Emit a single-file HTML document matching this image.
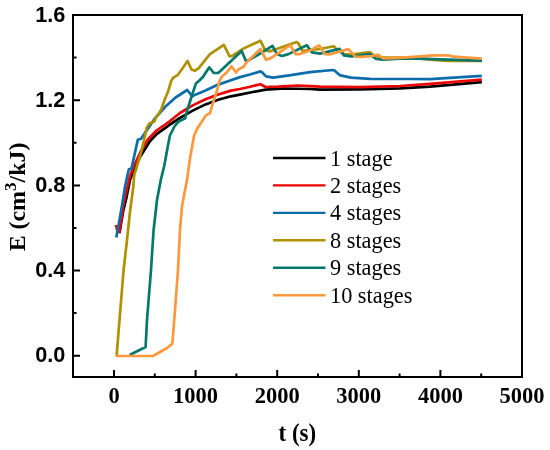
<!DOCTYPE html>
<html><head><meta charset="utf-8"><title>E vs t</title>
<style>html,body{margin:0;padding:0;background:#fff}svg{display:block}text{fill:#000}</style></head><body>
<svg width="550" height="450" viewBox="0 0 550 450">
<rect width="550" height="450" fill="#fff"/>
<polyline points="119.5,233.0 123.0,212.0 126.3,198.3 130.0,180.0 132.8,173.0 140.0,157.0 150.0,141.0 156.5,134.2 165.5,127.8 170.0,124.5 180.0,117.9 192.7,110.6 205.5,104.4 218.2,99.8 230.9,96.3 240.0,94.6 252.7,92.0 265.5,89.7 284.5,88.5 310.0,89.0 320.0,89.6 360.0,89.4 400.0,88.4 430.0,86.6 481.8,82.2" fill="none" stroke="#000000" stroke-width="2.7" stroke-linejoin="round" stroke-linecap="butt"/>
<polyline points="115.8,225.0 117.5,231.0 119.2,232.0 120.0,228.0 123.7,203.3 127.5,186.7 129.7,176.7 133.0,168.0 140.0,153.0 147.6,139.8 156.5,130.5 165.5,124.3 170.0,121.0 180.0,113.0 192.7,105.4 205.5,99.3 218.2,94.5 230.9,90.6 240.0,89.0 250.0,86.7 260.4,84.2 265.5,87.0 278.2,86.7 297.3,85.5 310.0,86.1 320.0,86.6 360.0,87.1 400.0,86.0 430.0,83.9 481.8,79.6" fill="none" stroke="#EB0505" stroke-width="2.7" stroke-linejoin="round" stroke-linecap="butt"/>
<polyline points="116.3,237.5 119.5,220.0 122.4,203.3 125.0,186.7 127.5,175.0 128.9,169.2 131.5,168.5 137.8,139.7 141.0,138.7 155.0,118.3 165.5,106.5 175.6,97.5 187.2,90.0 192.2,96.2 196.0,94.4 205.5,90.4 218.2,84.6 230.9,80.2 240.0,77.1 250.0,74.5 260.4,71.4 262.0,72.3 266.0,76.4 273.1,77.6 290.9,75.2 310.0,72.1 333.0,70.0 334.5,70.6 339.5,75.1 350.9,77.6 370.0,78.8 380.0,79.0 410.0,79.0 430.0,79.2 481.8,75.8" fill="none" stroke="#0C6CAC" stroke-width="2.7" stroke-linejoin="round" stroke-linecap="butt"/>
<polyline points="116.6,355.6 123.6,270.0 127.0,240.0 130.0,211.7 133.3,186.7 134.2,175.0 136.7,167.0 140.0,156.5 143.6,142.0 146.8,127.5 149.5,123.3 154.4,121.5 156.5,116.4 159.1,113.0 161.3,109.3 164.5,100.0 168.0,91.8 171.2,81.0 173.1,77.8 178.2,74.6 187.6,61.0 191.5,69.5 194.7,70.8 198.5,68.3 209.9,54.1 223.9,44.9 229.6,56.5 233.0,55.5 243.8,48.4 260.4,40.7 264.8,49.6 269.3,51.5 278.2,48.4 296.6,42.0 298.5,43.5 302.4,50.9 310.0,50.0 320.0,49.0 333.7,46.2 337.5,50.5 344.0,54.0 351.0,54.7 370.0,52.2 375.0,56.0 383.0,57.6 410.0,57.6 430.0,59.6 448.0,61.0 482.0,61.0" fill="none" stroke="#AF9100" stroke-width="2.7" stroke-linejoin="round" stroke-linecap="butt"/>
<polyline points="129.6,355.0 145.6,347.0 147.0,320.0 151.0,270.0 153.6,230.0 157.0,200.0 160.8,180.0 164.2,166.0 167.7,146.9 169.9,135.5 174.4,126.5 178.2,121.8 185.2,118.3 187.3,110.0 192.4,94.0 195.9,83.6 199.1,80.8 202.9,77.0 209.3,67.3 213.7,73.0 218.2,73.0 222.0,69.4 241.7,50.9 245.9,61.1 249.5,59.8 261.0,53.0 272.5,45.8 276.9,54.1 282.0,56.0 288.4,54.1 306.8,45.2 312.0,52.4 320.0,53.6 339.5,48.9 344.0,55.4 351.0,56.3 370.0,54.1 376.0,59.0 383.0,59.6 400.0,58.6 420.0,58.6 440.0,59.3 482.0,60.6" fill="none" stroke="#05786E" stroke-width="2.7" stroke-linejoin="round" stroke-linecap="butt"/>
<polyline points="115.6,356.0 153.0,356.0 167.0,348.0 172.4,343.6 175.0,310.0 178.0,270.0 180.0,230.0 182.0,206.0 187.0,180.0 190.0,158.5 194.1,135.5 197.3,128.5 202.4,120.8 206.2,115.1 209.9,113.3 212.5,104.4 216.9,91.0 219.5,80.8 222.0,76.4 227.1,71.9 231.5,66.2 236.0,72.5 238.5,69.4 243.6,66.8 246.4,62.4 260.5,49.0 266.1,59.8 271.2,57.9 290.3,45.2 295.4,54.1 299.8,54.1 310.2,50.4 319.1,45.3 324.8,54.1 330.5,54.3 348.4,49.1 355.4,56.6 361.1,56.9 371.5,56.0 377.8,54.7 383.5,58.5 398.2,57.9 417.3,56.6 432.7,55.4 448.6,55.4 453.5,56.7 481.8,58.6" fill="none" stroke="#FD983C" stroke-width="2.7" stroke-linejoin="round" stroke-linecap="butt"/>
<rect x="73" y="15" width="449.0" height="362" fill="none" stroke="#000" stroke-width="2"/>
<path d="M114.0,377v-7 M195.6,377v-7 M277.2,377v-7 M358.8,377v-7 M440.4,377v-7 M522.0,377v-7 M154.8,377v-3.5 M236.4,377v-3.5 M318.0,377v-3.5 M399.6,377v-3.5 M481.2,377v-3.5 M73,355.7h7 M73,270.5h7 M73,185.4h7 M73,100.2h7 M73,15.0h7 M73,313.1h3.5 M73,227.9h3.5 M73,142.8h3.5 M73,57.6h3.5" stroke="#000" stroke-width="2" fill="none"/>
<g font-family="'Liberation Sans', sans-serif" font-weight="bold" font-size="21.7" text-anchor="end">
<text x="65.3" y="362.3">0.0</text>
<text x="65.3" y="277.1">0.4</text>
<text x="65.3" y="192.0">0.8</text>
<text x="65.3" y="106.8">1.2</text>
<text x="65.3" y="21.6">1.6</text>
</g>
<g font-family="'Liberation Serif', serif" font-weight="bold" font-size="22.5" text-anchor="middle">
<text x="114.0" y="403">0</text>
<text x="195.6" y="403">1000</text>
<text x="277.2" y="403">2000</text>
<text x="358.8" y="403">3000</text>
<text x="440.4" y="403">4000</text>
<text x="522.0" y="403">5000</text>
</g>
<text x="278.6" y="441" font-family="'Liberation Serif', serif" font-weight="bold" font-size="25.2" textLength="37.6" lengthAdjust="spacingAndGlyphs">t (s)</text>
<text transform="translate(25.1,197) rotate(-90)" font-family="'Liberation Serif', serif" font-weight="bold" font-size="23.9" text-anchor="middle">E (cm<tspan dy="-9.2" font-size="17">3</tspan><tspan dy="9.2">/kJ)</tspan></text>
<g font-family="'Liberation Serif', serif" font-size="22.3">
<line x1="273" y1="158.0" x2="325.5" y2="158.0" stroke="#000000" stroke-width="2.4"/>
<text x="330" y="165.5">1 stage</text>
<line x1="273" y1="185.4" x2="325.5" y2="185.4" stroke="#EB0505" stroke-width="2.4"/>
<text x="330" y="192.9">2 stages</text>
<line x1="273" y1="212.9" x2="325.5" y2="212.9" stroke="#0C6CAC" stroke-width="2.4"/>
<text x="330" y="220.4">4 stages</text>
<line x1="273" y1="240.3" x2="325.5" y2="240.3" stroke="#AF9100" stroke-width="2.4"/>
<text x="330" y="247.8">8 stages</text>
<line x1="273" y1="267.8" x2="325.5" y2="267.8" stroke="#05786E" stroke-width="2.4"/>
<text x="330" y="275.3">9 stages</text>
<line x1="273" y1="295.2" x2="325.5" y2="295.2" stroke="#FD983C" stroke-width="2.4"/>
<text x="330" y="302.8">10 stages</text>
</g>
</svg></body></html>
